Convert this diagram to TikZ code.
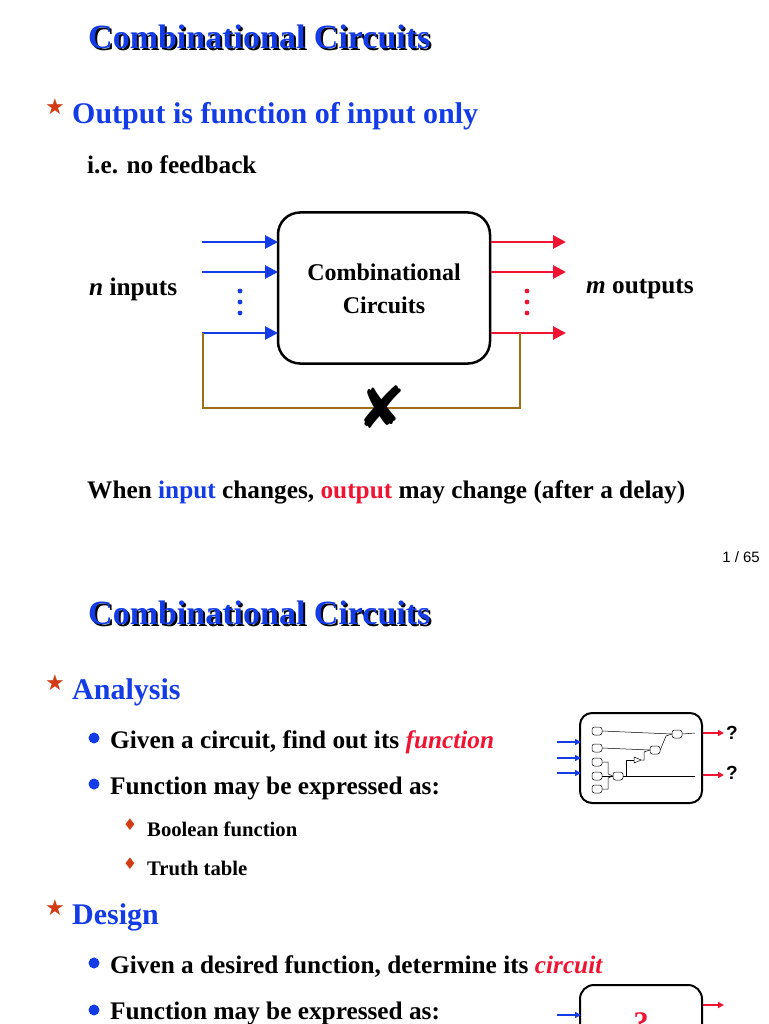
\documentclass[tikz,border=0pt]{standalone}
\usepackage{fontspec}
\setmainfont{Liberation Serif}
\newfontfamily\sym{DejaVu Sans}
\newfontfamily\lsans{Liberation Sans}
\usetikzlibrary{arrows.meta,shapes.geometric}
\definecolor{tblue}{RGB}{20,60,230}
\definecolor{tred}{RGB}{240,20,50}
\definecolor{star}{RGB}{210,60,20}
\definecolor{fb}{RGB}{160,110,20}
\begin{document}
\begin{tikzpicture}[x=1pt,y=-1pt,
  txt/.style={anchor=west,inner sep=0,font=\bfseries\fontsize{25.3}{28}\selectfont},
  head/.style={anchor=west,inner sep=0,font=\bfseries\fontsize{30}{34}\selectfont,text=tblue},
  sub/.style={anchor=west,inner sep=0,font=\bfseries\fontsize{20.7}{24}\selectfont},
  starn/.style={anchor=center,inner sep=0,text=star,font=\sym\fontsize{22}{22}\selectfont},
  bul/.style={circle,fill=tblue,inner sep=0,minimum size=11},
  dia/.style={anchor=center,inner sep=0,text=star,font=\sym\fontsize{16}{16}\selectfont},
  bin/.style={-{Triangle[length=13,width=13]},line width=2.8,draw=tblue},
  rout/.style={-{Triangle[length=13,width=13]},line width=2.8,draw=tred},
  sbin/.style={-{Triangle[length=6,width=6]},line width=1.6,draw=tblue},
  srout/.style={-{Triangle[length=6,width=6]},line width=1.6,draw=tred},
  gate/.style={draw,line width=0.5,minimum width=10,minimum height=8,inner sep=0,rounded corners=2.5}]
\useasboundingbox (0,0) rectangle (768,1024);
% titles
\foreach \y in {37,613}{
  \node[anchor=west,inner sep=0,font=\bfseries\fontsize{34}{38}\selectfont,text=black] at (90,\y+2) {Combinational Circuits};
  \node[anchor=west,inner sep=0,font=\bfseries\fontsize{34}{38}\selectfont,text=tblue] (t\y) at (88,\y) {Combinational Circuits};
}
% slide 1
\node[starn] (s1) at (55,107) {★};
\node[head] (h1) at (72,116) {Output is function of input only};
\node[txt] (ie) at (87,165) {i.e. no feedback};
\node[draw,line width=2.5,rounded corners=22,minimum width=212,minimum height=151,inner sep=0] (cc) at (384,288) {};
\node[align=center,font=\bfseries\fontsize{24}{33}\selectfont] (cct) at (384,289) {Combinational\\Circuits};
\foreach \y/\n in {242/a,272/b,333/c}{
  \coordinate (i\n) at (202,\y); \coordinate (ie\n) at (278,\y);
  \draw[bin] (i\n) -- (ie\n);
  \coordinate (o\n) at (491,\y); \coordinate (oe\n) at (566,\y);
  \draw[rout] (o\n) -- (oe\n);
}
\foreach \y in {291,302,313}{
  \fill[tblue] (240,\y) circle (2.4);
  \fill[tred] (527,\y) circle (2.4);
}
\node[txt] (nin) at (89,289) {\textit{n} inputs};
\node[txt] (mout) at (586,289) {\textit{m} outputs};
\coordinate (f1) at (203,333); \coordinate (f2) at (203,408);
\coordinate (f3) at (520,408); \coordinate (f4) at (520,333);
\draw[fb,line width=2.5] (f1) -- (f2) -- (f3) -- (f4);
\node[inner sep=0,font=\sym\fontsize{58}{58}\selectfont] (x0) at (382,407) {✘};
\node[txt] (when) at (87,492) {When \textcolor{tblue}{input} changes, \textcolor{tred}{output} may change (after a delay)};
\node[anchor=east,inner sep=0,font=\lsans\fontsize{15}{18}\selectfont] (pg) at (760,557) {1 / 65};
% slide 2
\node[starn] (s2) at (55,683) {★};
\node[head] (h2) at (72,692) {Analysis};
\node[bul] (b1) at (94,738) {};
\node[txt] (l1) at (110,742) {Given a circuit, find out its \textcolor{tred}{\textit{function}}};
\node[bul] (b2) at (94,784) {};
\node[txt] (l2) at (110,788) {Function may be expressed as:};
\node[dia] (d1) at (130,825) {♦};
\node[sub] (l3) at (147,829) {Boolean function};
\node[dia] (d2) at (130,864) {♦};
\node[sub] (l4) at (147,868) {Truth table};
\node[starn] (s3) at (55,908) {★};
\node[head] (h3) at (72,917) {Design};
\node[bul] (b3) at (94,963) {};
\node[txt] (l5) at (110,967) {Given a desired function, determine its \textcolor{tred}{\textit{circuit}}};
\node[bul] (b4) at (94,1010) {};
\node[txt] (l6) at (110,1013) {Function may be expressed as:};
% small circuit
\node[draw,line width=2,rounded corners=12,minimum width=122,minimum height=90,inner sep=0] (sc) at (641,758) {};
\foreach \y/\n in {742/p,758/q,773/r}{
  \coordinate (si\n) at (557,\y); \coordinate (sie\n) at (581,\y);
  \draw[sbin] (si\n) -- (sie\n);
}
\coordinate (so1) at (703,733); \coordinate (soe1) at (724,733);
\coordinate (so2) at (703,775); \coordinate (soe2) at (724,775);
\draw[srout] (so1) -- (soe1); \draw[srout] (so2) -- (soe2);
\node[anchor=west,inner sep=0,font=\lsans\bfseries\fontsize{19}{19}\selectfont] (q1) at (726,733) {?};
\node[anchor=west,inner sep=0,font=\lsans\bfseries\fontsize{19}{19}\selectfont] (q2) at (726,773) {?};
\begin{scope}[line width=0.5]
\foreach \y/\n in {731/g1,748/g2,762/g3,776/g4,789/g5}
  \node[gate] (\n) at (597,\y) {};
\node[gate] (g6) at (618,776) {};
\node[gate] (g7) at (655,750) {};
\node[gate] (g8) at (677,734) {};
\node[isosceles triangle,draw,inner sep=0,minimum width=6,minimum height=7] (g9) at (636,760) {};
\draw (g1.east) -- (g8.west);
\draw (g2.east) -- (g7.west);
\draw (g3.east) -- (608,762) -- (608,774) -- (g6.west);
\draw (g4.east) -- (g6.west);
\draw (g5.east) -- (608,789) -- (608,778) -- (g6.west);
\draw (g6.east) -- (695,776);
\draw (626,776) -- (626,760) -- (g9.west);
\draw (g9.east) -- (644,760) -- (644,752) -- (g7.west);
\draw (g7.east) -- (666,736) -- (g8.west);
\draw (g8.east) -- (695,733);
\end{scope}
\node[draw,line width=2,rounded corners=14,minimum width=122,minimum height=80,inner sep=0] (sd) at (641,1025) {};
\coordinate (di) at (557,1015); \coordinate (die) at (581,1015);
\draw[sbin] (di) -- (die);
\coordinate (do) at (703,1005); \coordinate (doe) at (724,1005);
\draw[srout] (do) -- (doe);
\node[anchor=north,text=tred,font=\bfseries\fontsize{30}{30}\selectfont,inner sep=0] (dq) at (641,1012) {?};
\end{tikzpicture}
\end{document}
